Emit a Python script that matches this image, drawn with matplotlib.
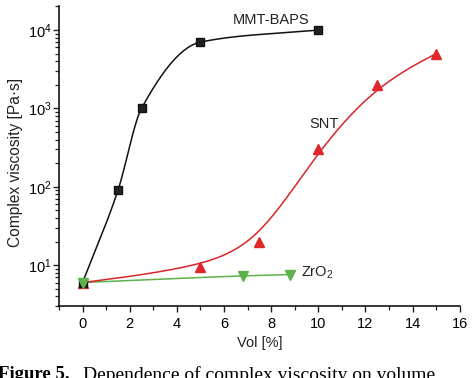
import numpy as np
import matplotlib
matplotlib.use("Agg")
import matplotlib.pyplot as plt
from matplotlib.ticker import MultipleLocator, LogLocator, NullFormatter

plt.rcParams['font.family'] = ['Liberation Sans', 'DejaVu Sans']
plt.rcParams['mathtext.fontset'] = 'custom'
plt.rcParams['mathtext.rm'] = 'Liberation Sans'
plt.rcParams['mathtext.it'] = 'Liberation Sans'

# data
mmt_x = [0, 1.5, 2.5, 5, 10]
mmt_y = [6, 90, 1000, 7000, 10000]
snt_x = [0, 5, 7.5, 10, 12.5, 15]
snt_y = [6, 9.4, 20, 300, 2000, 5000]
zro_x = [0, 6.8, 8.8]
zro_y = [6, 7.3, 7.6]


#monotone cubic through the points (log y), just for the smooth guide line
def smooth(x, y, n=200):
    x = np.asarray(x, float)
    y = np.log10(np.asarray(y, float))
    h = np.diff(x)
    d = np.diff(y) / h
    m = np.zeros_like(x)
    m[0], m[-1] = d[0], d[-1]
    for i in range(1, len(x) - 1):
        if d[i-1] * d[i] > 0:
            w1 = 2*h[i] + h[i-1]
            w2 = h[i] + 2*h[i-1]
            m[i] = (w1 + w2) / (w1/d[i-1] + w2/d[i])
    xs = np.linspace(x[0], x[-1], n)
    k = np.clip(np.searchsorted(x, xs) - 1, 0, len(x) - 2)
    t = (xs - x[k]) / h[k]
    h00 = 2*t**3 - 3*t**2 + 1
    h10 = t**3 - 2*t**2 + t
    h01 = -2*t**3 + 3*t**2
    h11 = t**3 - t**2
    ys = h00*y[k] + h10*h[k]*m[k] + h01*y[k+1] + h11*h[k]*m[k+1]
    return xs, 10**ys


#clamped cubic b-spline with the points as control points (like origin's b-spline line)
def bspline(x, y, n=300):
    P = np.column_stack([np.asarray(x, float), np.log10(np.asarray(y, float))])
    P = np.vstack([P[0], P[0], P, P[-1], P[-1]])
    out = []
    for i in range(len(P) - 3):
        t = np.linspace(0, 1, n // (len(P) - 3) + 2)[:, None]
        b0 = (1 - t)**3 / 6
        b1 = (3*t**3 - 6*t**2 + 4) / 6
        b2 = (-3*t**3 + 3*t**2 + 3*t + 1) / 6
        b3 = t**3 / 6
        out.append(b0*P[i] + b1*P[i+1] + b2*P[i+2] + b3*P[i+3])
    c = np.vstack(out)
    return c[:, 0], 10**c[:, 1]


fig = plt.figure(figsize=(4.74, 3.78), dpi=100)
ax = fig.add_axes([0.1245, 0.19, 0.8455, 0.794])

red = '#e0262a'
green = '#5db24a'

xs, ys = smooth(zro_x, zro_y)
ax.plot(xs, ys, color=green, lw=1.1, zorder=2)

xs, ys = bspline(snt_x, snt_y)
ax.plot(xs, ys, color='#d8262a', lw=1.1, zorder=2)
ax.plot(snt_x, snt_y, '^', color=red, ms=7, mec=red, zorder=3)

xs, ys = smooth(mmt_x, mmt_y)
ax.plot(xs, ys, color='#111111', lw=1.1, zorder=2)
ax.plot(mmt_x, mmt_y, 's', color='#222222', ms=5.5, mec='#111111', zorder=3)

ax.plot(zro_x, zro_y, 'v', color=green, ms=6.5, mec=green, zorder=4)

ax.set_yscale('log')
ax.set_xlim(-1, 16)
ax.set_ylim(3, 2.02e4)

ax.xaxis.set_major_locator(MultipleLocator(2))
ax.xaxis.set_minor_locator(MultipleLocator(1))
ax.yaxis.set_major_locator(LogLocator(base=10, numticks=10))
ax.yaxis.set_minor_locator(LogLocator(base=10, subs=np.arange(2, 10), numticks=20))
ax.yaxis.set_minor_formatter(NullFormatter())

for s in ['top', 'right']:
    ax.spines[s].set_visible(False)
for s in ['left', 'bottom']:
    ax.spines[s].set_linewidth(1.1)

ax.tick_params(which='major', direction='out', length=4.5, width=1.0, labelsize=10.5, color='#222222')
ax.tick_params(which='minor', direction='out', length=3, width=0.9, color='#222222')
ax.tick_params(axis='x', pad=3)
ax.tick_params(axis='y', pad=1)

ax.set_xlabel('Vol [%]', fontsize=10.5, labelpad=4, color='#222222')
ax.set_ylabel('Complex viscosity [Pa\u00b7s]', fontsize=11.2, color='#222222')
ax.yaxis.set_label_coords(-0.09, 0.48)

ax.text(6.35, 1.34e4, 'MMT-BAPS', fontsize=10.5, ha='left', va='center', color='#222222')
ax.text(9.6, 640, 'SNT', fontsize=10.5, ha='left', va='center', color='#222222')
ax.text(9.25, 7.9, 'ZrO$_2$', fontsize=10.5, ha='left', va='center', color='#222222')

fig.text(-0.004, 0.032, 'Figure 5.', fontsize=13.5, fontweight='bold',
         family='Liberation Serif', ha='left', va='top')
fig.text(0.175, 0.032, 'Dependence of complex viscosity on volume', fontsize=14,
         family='Liberation Serif', ha='left', va='top')

fig.savefig('out.png', dpi=100)
